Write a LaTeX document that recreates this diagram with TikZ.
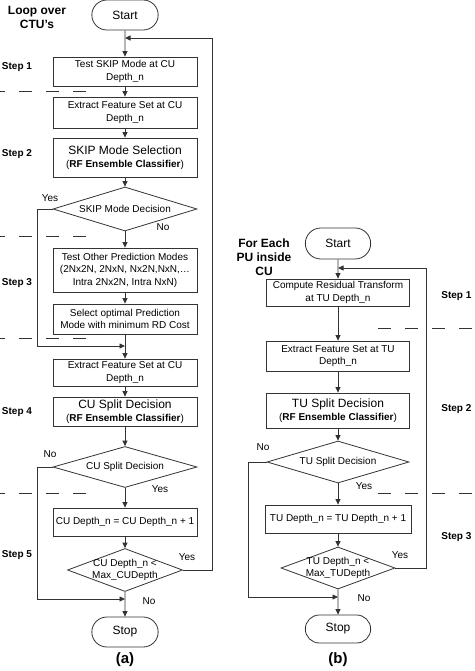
\documentclass[tikz,border=0pt]{standalone}
\usepackage{fontspec}
\setmainfont{Liberation Sans}
\usetikzlibrary{shapes.geometric,shapes.misc,arrows.meta}

\begin{document}
\begin{tikzpicture}[x=1pt,y=-1pt,line width=0.8pt,color=black!80,
  font=\fontsize{10}{12.5}\selectfont,
  every node/.append style={text=black},
  >={Triangle[length=5.5pt,width=5pt]},
  proc/.style={draw,rectangle,minimum width=144pt,align=center,inner sep=0pt},
  term/.style={draw,rounded rectangle,minimum width=73pt,minimum height=30pt,font=\fontsize{12}{14}\selectfont},
  decide/.style={draw,diamond,inner sep=0pt},
  steplbl/.style={font=\bfseries\fontsize{10}{12}\selectfont},
  bigtxt/.style={font=\bfseries\fontsize{12}{14}\selectfont,align=center},
  stepline/.style={dash pattern=on 13pt off 14pt}]
\useasboundingbox (0,0) rectangle (474,671);
\newcommand{\bigline}[1]{{\fontsize{12}{14}\selectfont #1}}
% (a) CU level
        \node[bigtxt] (loopa) at (37,17) {Loop over\\CTU's};
        \node[term] (starta) at (125,15) {Start};
        \coordinate (la) at (125,38);
        \node[proc,minimum height=29pt] (a1) at (125,71.5) {Test SKIP Mode at CU\\Depth\_n};
        \node[proc,minimum height=31pt] (a2) at (125,112.5) {Extract Feature Set at CU\\Depth\_n};
        \node[proc,minimum height=39pt] (a3) at (125,157.5) {\bigline{SKIP Mode Selection}\\(\textbf{RF Ensemble Classifier})};
        \node[decide,minimum width=144pt,minimum height=44pt,label=center:SKIP Mode Decision] (da1) at (125,209) {};
        \node[proc,minimum height=44pt] (a4) at (125,270) {Test Other Prediction Modes\\(2Nx2N, 2NxN, Nx2N,NxN,\dots\\Intra 2Nx2N, Intra NxN)};
        \node[proc,minimum height=30pt] (a5) at (125,319) {Select optimal Prediction\\Mode with minimum RD Cost};
        \coordinate (ja) at (125,346);
        \node[proc,minimum height=27pt] (a6) at (125,372.5) {Extract Feature Set at CU\\Depth\_n};
        \node[proc,minimum height=29pt] (a7) at (125,411.5) {\bigline{CU Split Decision}\\(\textbf{RF Ensemble Classifier})};
        \node[decide,minimum width=144pt,minimum height=41pt,label=center:CU Split Decision] (da2) at (125,467) {};
        \node[proc,minimum height=28pt] (a8) at (125,522) {CU Depth\_n = CU Depth\_n + 1};
        \node[decide,minimum width=115pt,minimum height=43pt,label={[align=center]center:{CU Depth\_n <\\Max\_CUDepth}}] (da3) at (125,570) {};
        \coordinate (jb) at (125,599);
        \node[term] (stopa) at (125,632) {Stop};
        \node[bigtxt,font=\bfseries\fontsize{15}{17}\selectfont] (capa) at (125,660) {(a)};
        \foreach \u/\v in {starta/a1,a1/a2,a2/a3,a3/da1,da1/a4,a4/a5,a5/a6,a6/a7,a7/da2,da2/a8,a8/da3,da3/stopa}
                \draw[->] (\u) -- (\v);
        \draw[->] (da1.west) -- ++(-15,0) |- (ja);
        \draw[->] (da2.west) -- ++(-15,0) |- (jb);
        \draw[->] (da3.east) -- ++(29.5,0) |- (la);
        \node (ya1) at (50,198) {Yes};
        \node (na1) at (163,227) {No};
        \node (na2) at (50,454) {No};
        \node (ya2) at (160,489) {Yes};
        \node (ya3) at (187,557) {Yes};
        \node (na3) at (149,601) {No};
        \foreach \y in {91,236,338,493}
                \draw[stepline,dash phase=8pt] (0,\y) -- (92,\y);
        \foreach \y/\n in {67/1,154/2,283/3,412/4,555/5}
                \node[steplbl] (sa\n) at (17,\y) {Step \n};
% (b) TU level
        \node[bigtxt] (loopb) at (264,257) {For Each\\PU inside\\CU};
        \node[term,minimum width=72pt,minimum height=31pt] (startb) at (338,243.5) {Start};
        \coordinate (lb) at (338,268);
        \node[proc,minimum width=143pt,minimum height=27pt] (b1) at (338,292.5) {Compute Residual Transform\\at TU Depth\_n};
        \node[proc,minimum width=143pt,minimum height=30pt] (b2) at (338,356) {Extract Feature Set at TU\\Depth\_n};
        \node[proc,minimum width=143pt,minimum height=35pt] (b3) at (338,410.5) {\bigline{TU Split Decision}\\(\textbf{RF Ensemble Classifier})};
        \node[decide,minimum width=142pt,minimum height=42pt,label=center:TU Split Decision] (db1) at (338,462) {};
        \node[proc,minimum width=146pt,minimum height=28pt] (b4) at (338,519) {TU Depth\_n = TU Depth\_n + 1};
        \node[decide,minimum width=114pt,minimum height=42pt,label={[align=center]center:{TU Depth\_n <\\Max\_TUDepth}}] (db2) at (338,568) {};
        \coordinate (jc) at (338,597);
        \node[term,minimum width=72pt,minimum height=28pt] (stopb) at (338,629) {Stop};
        \node[bigtxt,font=\bfseries\fontsize{15}{17}\selectfont] (capb) at (338,660) {(b)};
        \foreach \u/\v in {startb/b1,b1/b2,b2/b3,b3/db1,db1/b4,b4/db2,db2/stopb}
                \draw[->] (\u) -- (\v);
        \draw[->] (db1.west) -- ++(-18,0) |- (jc);
        \draw[->] (db2.east) -- ++(31,0) |- (lb);
        \node (nb1) at (263,447) {No};
        \node (yb1) at (364,486) {Yes};
        \node (yb2) at (400,555) {Yes};
        \node (nb2) at (364,598) {No};
        \foreach \y in {328,493}
                \draw[stepline] (378,\y) -- (474,\y);
        \foreach \y/\n in {296/1,409/2,537/3}
                \node[steplbl,anchor=west,inner sep=0pt] (sb\n) at (441,\y) {Step \n};
\end{tikzpicture}
\end{document}
